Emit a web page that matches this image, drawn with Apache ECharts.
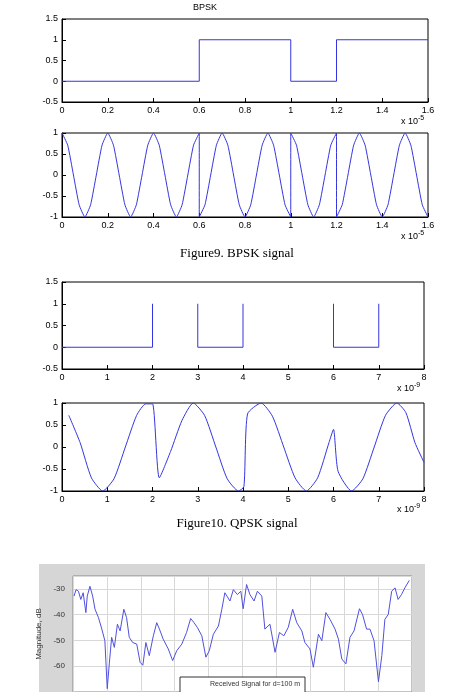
<!DOCTYPE html>
<html>
<head>
<meta charset="utf-8">
<title>BPSK / QPSK</title>
<script src="https://cdn.jsdelivr.net/npm/echarts@6/dist/echarts.min.js"></script>
<style>
  html,body{margin:0;padding:0;background:#fff;}
  #chart{width:474px;height:692px;}
</style>
</head>
<body>
<div id="chart"></div>
<script>
// BPSK bit stream (x in units of 1e-5 s)
var bpskBits = [[0,0],[0.6,0],[0.6,1],[1.0,1],[1.0,0],[1.2,0],[1.2,1],[1.6,1]];
// BPSK modulated carrier, sampled every 0.025
var bpskWave = [
  [0,1],[0.025,0.71],[0.05,0],[0.075,-0.71],[0.1,-1],[0.125,-0.71],[0.15,0],[0.175,0.71],
  [0.2,1],[0.225,0.71],[0.25,0],[0.275,-0.71],[0.3,-1],[0.325,-0.71],[0.35,0],[0.375,0.71],
  [0.4,1],[0.425,0.71],[0.45,0],[0.475,-0.71],[0.5,-1],[0.525,-0.71],[0.55,0],[0.575,0.71],[0.6,1],
  [0.6,-1],[0.625,-0.71],[0.65,0],[0.675,0.71],[0.7,1],[0.725,0.71],[0.75,0],[0.775,-0.71],
  [0.8,-1],[0.825,-0.71],[0.85,0],[0.875,0.71],[0.9,1],[0.925,0.71],[0.95,0],[0.975,-0.71],[1.0,-1],
  [1.0,1],[1.025,0.71],[1.05,0],[1.075,-0.71],[1.1,-1],[1.125,-0.71],[1.15,0],[1.175,0.71],[1.2,1],
  [1.2,-1],[1.225,-0.71],[1.25,0],[1.275,0.71],[1.3,1],[1.325,0.71],[1.35,0],[1.375,-0.71],
  [1.4,-1],[1.425,-0.71],[1.45,0],[1.475,0.71],[1.5,1],[1.525,0.71],[1.55,0],[1.575,-0.71],[1.6,-1]
];
// QPSK bit stream (x in units of 1e-9 s)
var qpskBits = [[0,0],[2,0],[2,1],[2.5,'-'],[3,1],[3,0],[4,0],[4,1],[5,'-'],[6,1],[6,0],[7,0],[7,1]];
var qpskWave = [
  [0.15,0.72],[0.4,0.1],[0.65,-0.7],[0.9,-1],[1.15,-0.72],[1.4,0],[1.65,0.72],[1.85,0.98],[2.0,0.98],
  [2.15,-0.7],[2.4,-0.1],[2.65,0.6],[2.9,1],[3.15,0.72],[3.4,0],[3.65,-0.72],[3.9,-1],[4.02,-0.9],
  [4.1,0.75],[4.4,1],[4.65,0.7],[4.9,0],[5.15,-0.7],[5.4,-1],[5.65,-0.7],[5.9,0.1],[6.0,0.4],
  [6.1,-0.55],[6.4,-1],[6.65,-0.72],[6.9,0],[7.15,0.72],[7.4,1],[7.6,0.78],[7.8,0.1],[8.0,-0.35]
];
// received signal magnitude (dB) vs position 0..100
var rxSignal = [
  [0.3,-32.8],[0.9,-30.3],[1.6,-30.9],[2.3,-34.1],[3.0,-31.5],[3.8,-39.2],[4.2,-32.8],[5.0,-29.0],
  [5.8,-32.8],[6.5,-37.9],[7.5,-41.1],[8.5,-45.6],[9.4,-50.1],[10.1,-68.7],[10.7,-59.1],[11.4,-48.8],
  [12.2,-52.7],[13.1,-43.7],[13.9,-46.3],[15.0,-37.9],[15.8,-41.1],[16.6,-48.8],[17.6,-50.8],[18.8,-51.4],
  [19.8,-58.5],[20.6,-59.6],[21.5,-50.8],[22.5,-55.9],[23.7,-48.2],[24.7,-43.1],[25.5,-45.6],[26.6,-49.5],
  [28.1,-53.3],[29.4,-57.8],[30.6,-54.0],[32.1,-51.4],[33.5,-46.9],[34.7,-41.5],[35.7,-43.1],[36.7,-45.0],
  [38.0,-48.2],[39.2,-56.5],[40.2,-54.0],[41.4,-47.6],[42.9,-44.4],[43.9,-37.9],[44.8,-31.5],[46.3,-34.7],
  [47.3,-30.3],[48.5,-32.2],[49.5,-30.9],[50.2,-37.7],[51.2,-28.3],[52.2,-32.2],[53.4,-34.7],[54.4,-30.9],
  [55.7,-32.8],[56.6,-45.6],[58.1,-43.7],[59.6,-54.6],[60.9,-46.9],[62.2,-48.2],[63.5,-44.9],[64.8,-37.9],
  [66.0,-43.1],[67.5,-46.3],[68.4,-50.8],[69.9,-53.3],[70.9,-60.4],[72.4,-47.6],[73.4,-50.1],[74.6,-39.2],
  [75.8,-41.8],[77.3,-45.6],[78.3,-49.5],[79.3,-57.2],[80.5,-59.1],[81.7,-48.8],[82.9,-46.3],[84.5,-37.7],
  [85.4,-39.9],[86.6,-45.6],[87.6,-45.6],[88.8,-50.1],[90.1,-66.0],[91.1,-55.9],[92.0,-41.8],[93.0,-39.9],
  [94.0,-30.9],[95.0,-29.6],[95.9,-34.1],[96.9,-32.2],[97.9,-29.6],[99.2,-26.7]
];

var lbl = {color:'#000', fontSize:9, fontFamily:'Arial', margin:4};
var tick = {inside:true, length:4, lineStyle:{color:'#000'}};
var line = {onZero:false, lineStyle:{color:'#000', width:1}};
function xAx(i, max, interval){
  return {type:'value', gridIndex:i, min:0, max:max, interval:interval,
    axisLine:line, axisTick:tick, axisLabel:lbl, splitLine:{show:false}};
}
function yAx(i, min, max, interval){
  return {type:'value', gridIndex:i, min:min, max:max, interval:interval,
    axisLine:line, axisTick:tick, axisLabel:lbl, splitLine:{show:false}};
}
var blue = '#3535e0';
function ser(i, data, smooth){
  return {type:'line', xAxisIndex:i, yAxisIndex:i, data:data, showSymbol:false, smooth:smooth || false,
    lineStyle:{color:blue, width:1}, connectNulls:false, animation:false};
}
function grid(left, top, w, h){
  return {left:left, top:top, width:w, height:h, show:true, borderColor:'#000', borderWidth:1, backgroundColor:'#fff'};
}
function sciLabel(x, y, exp){
  return {type:'text', left:x, top:y, style:{
    text:'x 10{s|' + exp + '}', fill:'#000', font:'9px Arial',
    rich:{s:{fontSize:7, verticalAlign:'top', padding:[0,0,6,0]}}}};
}

var chart = echarts.init(document.getElementById('chart'));
chart.setOption({
  animation:false,
  grid:[
    grid(62,19,366,83),
    grid(62,133,366,84),
    grid(62,282,362,87),
    grid(62,403,362,88),
    {left:73, top:576, width:339, height:116, show:true, borderColor:'#888', borderWidth:1, backgroundColor:'#fff'}
  ],
  xAxis:[
    xAx(0,1.6,0.2), xAx(1,1.6,0.2), xAx(2,8,1), xAx(3,8,1),
    {type:'value', gridIndex:4, min:0, max:100, interval:10, axisLine:{show:false}, axisTick:{show:false},
      axisLabel:{show:false}, splitLine:{lineStyle:{color:'#d8d8d8'}}}
  ],
  yAxis:[
    yAx(0,-0.5,1.5,0.5), yAx(1,-1,1,0.5), yAx(2,-0.5,1.5,0.5), yAx(3,-1,1,0.5),
    {type:'value', gridIndex:4, min:-70, max:-25, interval:10, axisLine:{show:false}, axisTick:{show:false},
      axisLabel:{color:'#333', fontSize:8, fontFamily:'Arial', showMinLabel:false, showMaxLabel:false},
      splitLine:{lineStyle:{color:'#d8d8d8'}},
      name:'Magnitude, dB', nameLocation:'middle', nameGap:26, nameRotate:90,
      nameTextStyle:{color:'#333', fontSize:8, fontFamily:'Arial'}}
  ],
  series:[ser(0,bpskBits), ser(1,bpskWave,0.15), ser(2,qpskBits), ser(3,qpskWave,0.2),
    Object.assign(ser(4,rxSignal), {lineStyle:{color:'#5050e0', width:1}})],
  graphic:[
    {type:'rect', z:-1, shape:{x:39, y:564, width:386, height:128}, style:{fill:'#d6d6d6'}},
    {type:'text', left:193, top:3, style:{text:'BPSK', fill:'#000', font:'9px Arial'}},
    sciLabel(401,115,'-5'),
    sciLabel(401,230,'-5'),
    sciLabel(397,382,'-9'),
    sciLabel(397,503,'-9'),
    {type:'text', left:'center', top:247, style:{text:'Figure9. BPSK signal', fill:'#000', font:'13px "Liberation Serif"'}},
    {type:'text', left:'center', top:517, style:{text:'Figure10. QPSK signal', fill:'#000', font:'13px "Liberation Serif"'}},
    {type:'rect', z:10, shape:{x:180, y:677, width:125, height:20}, style:{fill:'#fff', stroke:'#333', lineWidth:1}},
    {type:'text', z:11, left:210, top:681, style:{text:'Received Signal for d=100 m', fill:'#333', font:'7px Arial'}}
  ]
});
</script>
</body>
</html>
